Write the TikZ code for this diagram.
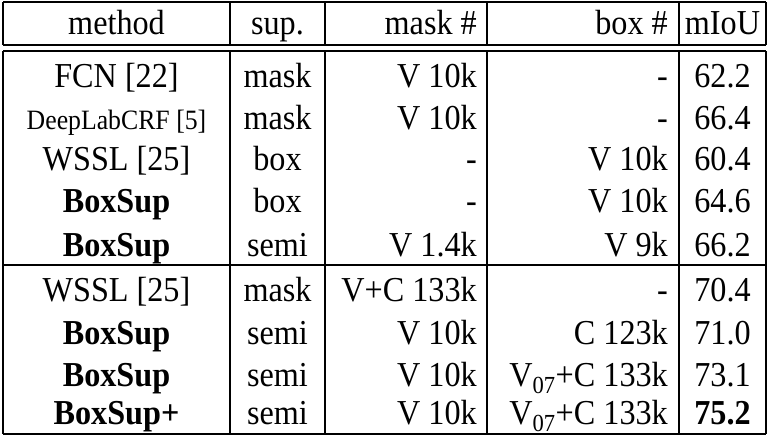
\documentclass[tikz,border=0pt]{standalone}
\usepackage{fontspec}
\setmainfont[FakeStretch=0.92]{Liberation Serif}
\begin{document}
\begin{tikzpicture}[x=1pt,y=-1pt,
  cell/.style={inner sep=0pt,font=\fontsize{35}{37}\selectfont,anchor=base},
  rcell/.style={cell,anchor=base east},
  ln/.style={line width=1.4pt}]
\useasboundingbox (0,0) rectangle (769,437);
% lines
\draw[ln] (3,2) -- (766,2);
\draw[ln] (3,45) -- (766,45);
\draw[ln] (3,51) -- (766,51);
\draw[ln] (3,265) -- (766,265);
\draw[ln] (3,434) -- (766,434);
\foreach \x in {3,230,325,487,679,766} {
  \draw[ln] (\x,2) -- (\x,45);
  \draw[ln] (\x,51) -- (\x,434);
}
% header
\node[cell] (h1) at (116.5,34) {method};
\node[cell] (h2) at (277.5,34) {sup.};
\node[rcell] (h3) at (477,34) {mask \#};
\node[rcell] (h4) at (668,34) {box \#};
\node[cell] (h5) at (722.5,34) {mIoU};
% rows
\foreach [count=\i] \m/\s/\a/\b/\c/\y in {
  {FCN [22]}/mask/V 10k/-/62.2/87,
  {\fontsize{28}{30}\selectfont DeepLabCRF [5]}/mask/V 10k/-/66.4/129,
  {WSSL [25]}/box/-/V 10k/60.4/170,
  {\bfseries BoxSup}/box/-/V 10k/64.6/212,
  {\bfseries BoxSup}/semi/V 1.4k/V 9k/66.2/256,
  {WSSL [25]}/mask/V+C 133k/-/70.4/301,
  {\bfseries BoxSup}/semi/V 10k/C 123k/71.0/344,
  {\bfseries BoxSup}/semi/V 10k/V\textsubscript{07}+C 133k/73.1/386,
  {\bfseries BoxSup+}/semi/V 10k/V\textsubscript{07}+C 133k/{\bfseries 75.2}/424} {
  \node[cell] (m\i) at (116.5,\y) {\m};
  \node[cell] (s\i) at (277.5,\y) {\s};
  \node[rcell] (a\i) at (477,\y) {\a};
  \node[rcell] (b\i) at (668,\y) {\b};
  \node[cell] (c\i) at (722.5,\y) {\c};
}
\end{tikzpicture}
\end{document}
